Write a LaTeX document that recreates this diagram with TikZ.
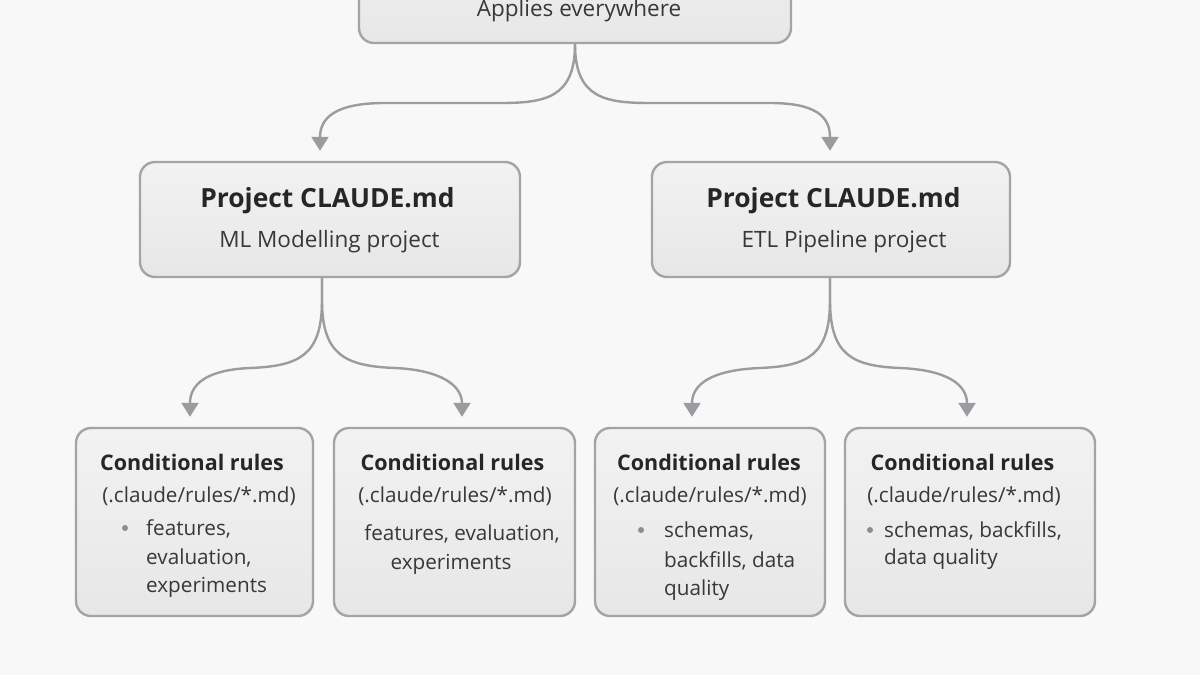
\documentclass[tikz,border=0pt]{standalone}
\usepackage{fontspec}
\setmainfont{Open Sans}
\usepackage{tikz}
\usetikzlibrary{arrows.meta, positioning}
\definecolor{bg}{HTML}{F8F8F8}
\definecolor{boxline}{HTML}{A4A4A8}
\definecolor{boxtop}{HTML}{F2F2F2}
\definecolor{boxbot}{HTML}{E7E7E7}
\definecolor{ink}{HTML}{262626}
\definecolor{inksoft}{HTML}{383838}
\definecolor{wire}{HTML}{9C9CA0}
\definecolor{dotc}{HTML}{8C8C8C}
\tikzstyle{box} = [draw=boxline, line width=2.4pt, rounded corners=15pt, top color=boxtop, bottom color=boxbot, inner sep=0pt]
\tikzstyle{bigttl} = [font=\fontsize{26.4}{30}\selectfont\bfseries, text=ink, anchor=base, inner sep=0pt]
\tikzstyle{bigsub} = [font=\fontsize{22.5}{26}\selectfont, text=inksoft, anchor=base, inner sep=0pt]
\tikzstyle{ttl} = [font=\fontsize{21.5}{25}\selectfont\bfseries, text=ink, anchor=base, inner sep=0pt]
\tikzstyle{txt} = [font=\fontsize{20.7}{24}\selectfont, text=inksoft, anchor=base, inner sep=0pt]
\tikzstyle{item} = [txt, anchor=base west]
\tikzstyle{dot} = [circle, fill=dotc, inner sep=0pt, minimum size=6pt]
\tikzstyle{line} = [draw=wire, line width=2.4pt, -{Triangle[width=17pt,length=14pt]}, shorten >=10pt]

\begin{document}
\begin{tikzpicture}[x=1pt, y=-1pt]
	\useasboundingbox (0,0) rectangle (1200,675);
	\clip (0,0) rectangle (1200,675);
	\fill [bg] (0,0) rectangle (1200,675);

	% boxes
	\node [box, minimum width=432pt, minimum height=123pt] (glob) at (575,-18.5) {};
	\node [box, minimum width=380pt, minimum height=115pt] (mlproj) at (330,219.5) {};
	\node [box, minimum width=358pt, minimum height=115pt] (etlproj) at (831,219.5) {};
	\node [box, minimum width=237pt, minimum height=188pt] (mlA) at (194.5,522) {};
	\node [box, minimum width=241pt, minimum height=188pt] (mlB) at (454.5,522) {};
	\node [box, minimum width=230pt, minimum height=188pt] (etlA) at (710,522) {};
	\node [box, minimum width=250pt, minimum height=188pt] (etlB) at (970,522) {};

	% texts
	\node [bigsub] (globsub) at (579,16) {Applies everywhere};
	\node [bigttl] (mlttl) at (327.5,207.5) {Project CLAUDE.md};
	\node [bigsub] (mlsub) at (329.5,247) {ML Modelling project};
	\node [bigttl] (etlttl) at (833.5,207.5) {Project CLAUDE.md};
	\node [bigsub] (etlsub) at (844,247) {ETL Pipeline project};

	\node [ttl] (mlAttl) at (192,470.5) {Conditional rules};
	\node [txt] (mlApath) at (199,502.5) {(.claude/rules/*.md)};
	\node [dot] (mlAdot) at (125,528) {};
	\node [item] (mlA1) at (146,535.5) {features,};
	\node [item] (mlA2) at (146,564.5) {evaluation,};
	\node [item] (mlA3) at (146,592.5) {experiments};

	\node [ttl] (mlBttl) at (452.5,470.5) {Conditional rules};
	\node [txt] (mlBpath) at (455,502.5) {(.claude/rules/*.md)};
	\node [txt] (mlB1) at (462,540.5) {features, evaluation,};
	\node [txt] (mlB2) at (451,569.5) {experiments};

	\node [ttl] (etlAttl) at (709,470.5) {Conditional rules};
	\node [txt] (etlApath) at (710,502.5) {(.claude/rules/*.md)};
	\node [dot] (etlAdot) at (641,530) {};
	\node [item] (etlA1) at (664,537.5) {schemas,};
	\node [item] (etlA2) at (664,567.5) {backfills, data};
	\node [item] (etlA3) at (664,595.5) {quality};

	\node [ttl] (etlBttl) at (962.5,470.5) {Conditional rules};
	\node [txt] (etlBpath) at (964,502.5) {(.claude/rules/*.md)};
	\node [dot] (etlBdot) at (870,530) {};
	\node [item] (etlB1) at (884,537.5) {schemas, backfills,};
	\node [item] (etlB2) at (884,564.5) {data quality};

	% connectors
	\path [line] (glob.south) .. controls (575,98) and (545,103) .. (500,103) -- (385,103) .. controls (335,103) and (320,118) .. ([xshift=-10pt]mlproj.north);
	\path [line] (glob.south) .. controls (575,98) and (605,103) .. (650,103) -- (770,103) .. controls (818,103) and (830,118) .. ([xshift=-1pt]etlproj.north);

	\path [line] ([xshift=-8pt]mlproj.south) -- (322,300) .. controls (322,355) and (300,366) .. (250,368) .. controls (205,370) and (190,385) .. ([xshift=-4.5pt]mlA.north);
	\path [line] ([xshift=-8pt]mlproj.south) -- (322,300) .. controls (322,355) and (345,366) .. (395,368) .. controls (440,370) and (462,385) .. ([xshift=7.5pt]mlB.north);
	\path [line] ([xshift=-1pt]etlproj.south) -- (830,300) .. controls (830,355) and (808,366) .. (760,368) .. controls (710,370) and (692,385) .. ([xshift=-18pt]etlA.north);
	\path [line] ([xshift=-1pt]etlproj.south) -- (830,300) .. controls (830,355) and (852,366) .. (900,368) .. controls (948,370) and (967,385) .. ([xshift=-3pt]etlB.north);
\end{tikzpicture}
\end{document}
